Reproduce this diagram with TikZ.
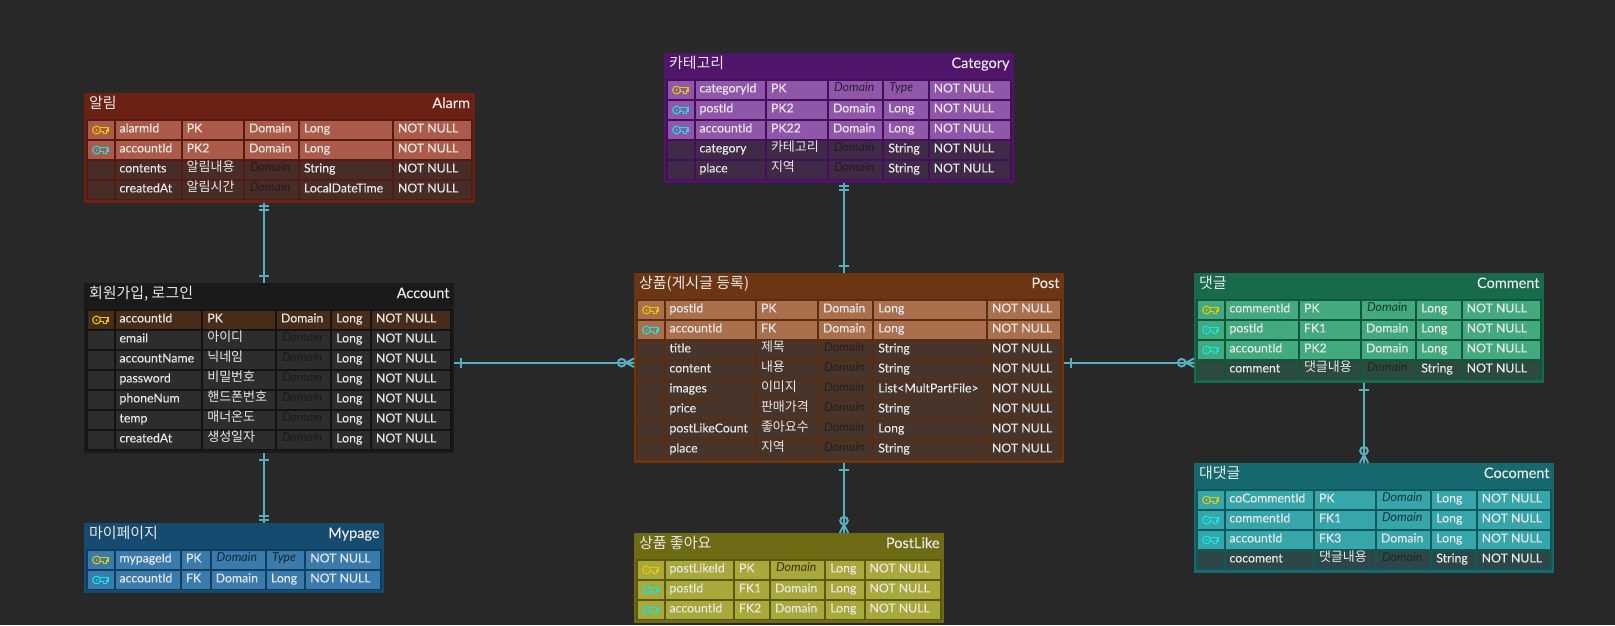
\documentclass[tikz,border=0pt]{standalone}
\usepackage{fontspec}
\setmainfont{Lato}[FakeBold=0.12]
\newfontfamily\plainlato{Lato}
\newfontfamily\cjk{Noto Sans CJK KR}
\usetikzlibrary{calc}
\definecolor{bgc}{HTML}{282828}
\definecolor{relc}{HTML}{58AFC0}
\definecolor{txtc}{HTML}{E8E8E8}
\definecolor{kgold}{HTML}{E8C800}
\definecolor{kcyan}{HTML}{14E6E6}
\tikzset{
  x=1pt,y=-1pt,
  cellt/.style={anchor=base west,inner sep=0pt,outer sep=0pt,text=txtc,font=\fontsize{12.3}{14}\selectfont},
  headl/.style={anchor=base west,inner sep=0pt,outer sep=0pt,text=txtc,font=\fontsize{15}{16}\selectfont},
  headr/.style={anchor=base east,inner sep=0pt,outer sep=0pt,text=txtc,font=\fontsize{14.5}{16}\selectfont},
  tablebox/.style={anchor=north west,inner sep=0pt,outer sep=0pt,fill=head,draw=none},
  rel/.style={draw=relc,line width=2pt},
  erkey/.pic={
    \draw[#1,line width=1.05pt,line join=miter] (8.5,9) circle (3.9pt);
    \fill[#1] (8.5,9) circle (1pt);
    \draw[#1,line width=1.05pt] (12.2,6.6) -- (20,6.6) -- (20,10) -- (18.4,10) -- (18.4,12.6) -- (15.6,12.6) -- (15.6,10.6) -- (12.2,10.6);
  },
  onebar/.pic={\draw[rel] (7,-5) -- (7,5);},
  twobar/.pic={\draw[rel] (3,-5) -- (3,5); \draw[rel] (7,-5) -- (7,5);},
  zeromany/.pic={
    \draw[rel] (12.3,0) circle (3.8pt);
    \draw[rel,line width=1.9pt] (8.2,0) -- (0,-4.3) (8.2,0) -- (0,0) (8.2,0) -- (0,4.3);
  },
}
\newcommand\ko[1]{\raisebox{0.7pt}{\fontsize{13}{14}\selectfont\cjk #1}}
\newcommand\Dn{Domain}
\newcommand\Pl[1]{\hspace*{1pt}\raisebox{0.6pt}{\plainlato\itshape\color{black!\phamt!cellc}#1}}
\newcommand\keyat[1]{\pic at (\tleft+4,\ry) {erkey=#1};}
\newcommand\kg{\keyat{kgold}}
\newcommand\kc{\keyat{kcyan}}
\def\hiword{hi}
% #1 name, #2 left, #3 top, #4 right, #5 rows, #6 korean title, #7 english title
\newcommand\tbl[7]{%
  \def\tn{#1}\def\tleft{#2}\def\ttop{#3}\def\tright{#4}%
  \pgfmathsetmacro\tw{#4-#2}\pgfmathsetmacro\th{30+20*#5}\pgfmathsetmacro\tbot{#3+\th}%
  \node[tablebox,minimum width=\tw pt,minimum height=\th pt] (#1) at (#2,#3) {};
  \fill[band] (#2+2,#3+26) rectangle (#4-2,\tbot-3);
  \node[headl] (#1-ko) at (#2+5,#3+15) {\cjk #6};
  \node[headr] (#1-en) at (#4-4.5,#3+15) {#7};
}
\newcommand\cols[5]{\def\ea{#1}\def\eb{#2}\def\ec{#3}\def\ed{#4}\def\ee{#5}}
% #1 row, #2 colour, #3 key, #4..#7 texts
\newcommand\rw[7]{%
  \pgfmathsetmacro\ry{\ttop+28+20*(#1-1)}%
  \colorlet{cellc}{#2}%
  \def\tmpw{#2}\ifx\tmpw\hiword\def\phamt{68}\else\def\phamt{42}\fi
  \pgfmathsetmacro\yb{\ry+18}\pgfmathsetmacro\yt{\ry+11.4}%
  \fill[cellc] (\tleft+4,\ry) rectangle (\tleft+30,\yb);
  \fill[cellc] (\tleft+32,\ry) rectangle (\ea,\yb);
  \fill[cellc] (\ea+2,\ry) rectangle (\eb,\yb);
  \fill[cellc] (\eb+2,\ry) rectangle (\ec,\yb);
  \fill[cellc] (\ec+2,\ry) rectangle (\ed,\yb);
  \fill[cellc] (\ed+2,\ry) rectangle (\ee,\yb);
  #3
  \node[cellt] (\tn-r#1-a) at (\tleft+35.5,\yt) {#4};
  \node[cellt] (\tn-r#1-b) at (\ea+6,\yt) {#5};
  \node[cellt] (\tn-r#1-c) at (\eb+6,\yt) {#6};
  \node[cellt] (\tn-r#1-d) at (\ec+6,\yt) {#7};
  \node[cellt] (\tn-r#1-e) at (\ed+6,\yt) {NOT NULL};
}
\newcommand\pal[5]{\definecolor{head}{HTML}{#1}\definecolor{band}{HTML}{#2}\definecolor{hi}{HTML}{#3}\definecolor{lo}{HTML}{#4}}
\definecolor{head}{HTML}{000000}\definecolor{band}{HTML}{000000}\definecolor{hi}{HTML}{000000}\definecolor{lo}{HTML}{000000}\definecolor{cellc}{HTML}{000000}
\begin{document}
\begin{tikzpicture}
\useasboundingbox (0,0) rectangle (1615,625);
\fill[bgc] (0,0) rectangle (1615,625);

% Alarm
\pal{6B2215}{561B10}{AC5A4A}{482C27}{}
\cols{180.7}{243}{298}{392}{470.5}
\tbl{alarm}{84}{93}{474.5}{4}{알림}{Alarm}
\rw{1}{hi}{\keyat{kgold}}{alarmId}{PK}{\Dn}{Long}
\rw{2}{hi}{\kc}{accountId}{PK2}{\Dn}{Long}
\rw{3}{lo}{}{contents}{\ko{알림내용}}{\Pl{Domain}}{String}
\rw{4}{lo}{}{createdAt}{\ko{알림시간}}{\Pl{Domain}}{LocalDateTime}

% Account
\pal{1A1A1A}{131313}{472C1A}{2D2D2D}{}
\cols{201.3}{275}{330.3}{370}{450}
\tbl{account}{84}{283}{454}{7}{회원가입, 로그인}{Account}
\rw{1}{hi}{\kg}{accountId}{PK}{\Dn}{Long}
\rw{2}{lo}{}{email}{\ko{아이디}}{\Pl{Domain}}{Long}
\rw{3}{lo}{}{accountName}{\ko{닉네임}}{\Pl{Domain}}{Long}
\rw{4}{lo}{}{password}{\ko{비밀번호}}{\Pl{Domain}}{Long}
\rw{5}{lo}{}{phoneNum}{\ko{핸드폰번호}}{\Pl{Domain}}{Long}
\rw{6}{lo}{}{temp}{\ko{매너온도}}{\Pl{Domain}}{Long}
\rw{7}{lo}{}{createdAt}{\ko{생성일자}}{\Pl{Domain}}{Long}

% Mypage
\pal{164B70}{0F3E5E}{3A7AAC}{2D3A47}{}
\cols{180}{209.7}{265}{304.3}{380}
\tbl{mypage}{84}{523}{384}{2}{마이페이지}{Mypage}
\rw{1}{hi}{\kg}{mypageId}{PK}{\Pl{Domain}}{\Pl{Type}}
\rw{2}{hi}{\kc}{accountId}{FK}{\Dn}{Long}

% Category
\pal{50146A}{420F58}{9056AA}{3F2A47}{}
\cols{765}{827}{882.3}{927.7}{1010}
\tbl{category}{664}{53}{1014}{5}{카테고리}{Category}
\rw{1}{hi}{\keyat{kgold}}{categoryId}{PK}{\Pl{Domain}}{\Pl{Type}}
\rw{2}{hi}{\kc}{postId}{PK2}{\Dn}{Long}
\rw{3}{hi}{\kc}{accountId}{PK22}{\Dn}{Long}
\rw{4}{lo}{}{category}{\ko{카테고리}}{\Pl{Domain}}{String}
\rw{5}{lo}{}{place}{\ko{지역}}{\Pl{Domain}}{String}

% Post
\pal{6C3612}{5A2C10}{AA6F4D}{47342A}{}
\cols{755}{817}{872.3}{986}{1060}
\tbl{post}{634}{273}{1064}{8}{상품(게시글 등록)}{Post}
\rw{1}{hi}{\kg}{postId}{PK}{\Dn}{Long}
\rw{2}{hi}{\kc}{accountId}{FK}{\Dn}{Long}
\rw{3}{lo}{}{title}{\ko{제목}}{\Pl{Domain}}{String}
\rw{4}{lo}{}{content}{\ko{내용}}{\Pl{Domain}}{String}
\rw{5}{lo}{}{images}{\ko{이미지}}{\Pl{Domain}}{List<MultPartFile>}
\rw{6}{lo}{}{price}{\ko{판매가격}}{\Pl{Domain}}{String}
\rw{7}{lo}{}{postLikeCount}{\ko{좋아요수}}{\Pl{Domain}}{Long}
\rw{8}{lo}{}{place}{\ko{지역}}{\Pl{Domain}}{String}

% PostLike
\pal{6D6C14}{59580F}{A9A83A}{47472A}{}
\cols{733}{769}{824.3}{863.5}{940}
\tbl{postlike}{634}{533}{944}{3}{상품 좋아요}{PostLike}
\rw{1}{hi}{\kg}{postLikeId}{PK}{\Pl{Domain}}{Long}
\rw{2}{hi}{\kc}{postId}{FK1}{\Dn}{Long}
\rw{3}{hi}{\kc}{accountId}{FK2}{\Dn}{Long}

% Comment
\pal{186B4A}{0F573B}{43A97E}{2D4A3F}{}
\cols{1298}{1360}{1415.3}{1460.7}{1540}
\tbl{comment}{1194}{273}{1544}{4}{댓글}{Comment}
\rw{1}{hi}{\kg}{commentId}{PK}{\Pl{Domain}}{Long}
\rw{2}{hi}{\kc}{postId}{FK1}{\Dn}{Long}
\rw{3}{hi}{\kc}{accountId}{PK2}{\Dn}{Long}
\rw{4}{lo}{}{comment}{\ko{댓글내용}}{\Pl{Domain}}{String}

% Cocoment
\pal{166A6F}{0F585B}{37A6AB}{2D4749}{}
\cols{1313}{1375}{1430.3}{1475.7}{1550}
\tbl{cocoment}{1194}{463}{1554}{4}{대댓글}{Cocoment}
\rw{1}{hi}{\kg}{coCommentId}{PK}{\Pl{Domain}}{Long}
\rw{2}{hi}{\kc}{commentId}{FK1}{\Pl{Domain}}{Long}
\rw{3}{hi}{\kc}{accountId}{FK3}{\Dn}{Long}
\rw{4}{lo}{}{cocoment}{\ko{댓글내용}}{\Pl{Domain}}{String}

% connector ends
\coordinate (alarm-s) at ($(alarm.south west)+(180,0)$);
\coordinate (account-n) at ($(account.north west)+(180,0)$);
\coordinate (account-s) at ($(account.south west)+(180,0)$);
\coordinate (mypage-n) at ($(mypage.north west)+(180,0)$);
\coordinate (account-e) at ($(account.north east)+(0,79.7)$);
\coordinate (post-w) at ($(post.north west)+(0,89.7)$);
\coordinate (post-e) at ($(post.north east)+(0,89.7)$);
\coordinate (comment-w) at ($(comment.north west)+(0,89.7)$);
\coordinate (category-s) at ($(category.south west)+(180,0)$);
\coordinate (post-n) at ($(post.north west)+(210,0)$);
\coordinate (post-s) at ($(post.south west)+(210,0)$);
\coordinate (postlike-n) at ($(postlike.north west)+(210,0)$);
\coordinate (comment-s) at ($(comment.south west)+(170,0)$);
\coordinate (cocoment-n) at ($(cocoment.north west)+(170,0)$);

\draw[rel] (alarm-s) -- (account-n);
\pic at (alarm-s) [rotate=-90] {twobar};
\pic at (account-n) [rotate=90] {onebar};
\draw[rel] (account-s) -- (mypage-n);
\pic at (account-s) [rotate=-90] {onebar};
\pic at (mypage-n) [rotate=90] {twobar};
\draw[rel] (category-s) -- (post-n);
\pic at (category-s) [rotate=-90] {twobar};
\pic at (post-n) [rotate=90] {onebar};
\draw[rel] (account-e) -- (post-w);
\pic at (account-e) {onebar};
\pic at (post-w) [rotate=180] {zeromany};
\draw[rel] (post-e) -- (comment-w);
\pic at (post-e) {onebar};
\pic at (comment-w) [rotate=180] {zeromany};
\draw[rel] (post-s) -- (postlike-n);
\pic at (post-s) [rotate=-90] {onebar};
\pic at (postlike-n) [rotate=90] {zeromany};
\draw[rel] (comment-s) -- (cocoment-n);
\pic at (comment-s) [rotate=-90] {onebar};
\pic at (cocoment-n) [rotate=90] {zeromany};
\end{tikzpicture}
\end{document}
